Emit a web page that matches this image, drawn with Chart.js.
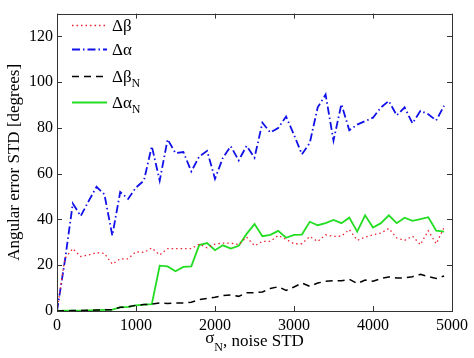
<!DOCTYPE html>
<html>
<head>
<meta charset="utf-8">
<script src="https://cdn.jsdelivr.net/npm/chart.js@4.4.1/dist/chart.umd.min.js"></script>
<style>
  html, body { margin: 0; padding: 0; background: #ffffff; }
  #wrap { width: 474px; height: 358px; position: relative; }
</style>
</head>
<body>
<div id="wrap"><canvas id="c" width="474" height="358"></canvas></div>
<script>
const xValues = [0,100,200,300,400,500,600,700,800,900,1000,1100,1200,1300,1400,1500,1600,1700,1800,1900,2000,2100,2200,2300,2400,2500,2600,2700,2800,2900,3000,3100,3200,3300,3400,3500,3600,3700,3800,3900,4000,4100,4200,4300,4400,4500,4600,4700,4800,4900];
const deltaBeta = [0,23,27.3,23.8,24.5,25.5,25.2,20.5,22.8,22.8,25.9,25.6,27.6,24.5,27.3,27.3,27.3,27.3,29.2,27.6,29.2,29.7,29.7,29,32.3,28.5,30.4,30.4,33,31.3,29.4,29.4,32.6,30.4,33.3,32.6,32.7,35.6,30.9,32.3,33.3,34.1,36.1,31.9,30.9,32.7,29,35.1,29.4,36.5];
const deltaAlpha = [0,22,47,41.5,48,54.3,51,33,52,49,54,57,72,57,75,69,69.5,61,67.5,70,57.8,67,72,65.8,72.2,67,82.3,78,80,85,77,68.5,73.5,89,94.6,74.5,90.4,79,81.5,83,84.5,89,91.8,85.5,89,82,87.5,86,83.3,89.7];
const deltaBetaN = [0,0.1,0.2,0.2,0.3,0.4,0.5,0.6,1.6,1.8,2.5,2.8,3.0,3.5,3.3,3.5,3.5,3.8,5,5.5,6,6.8,7,6.4,8,8,8.3,9.8,10.6,9,10.5,12.2,10.8,12.2,13,13.2,13.2,13.9,12,13.5,13,14.2,14.9,14.4,14.5,15,16,15,14.2,15.3];
const deltaAlphaN = [0,0.1,0.2,0.2,0.3,0.4,0.5,0.6,1.6,1.8,2.5,2.8,3.0,19.8,19.5,17.4,19.3,19.5,28.8,29.7,26.6,28.7,27.3,28.5,33.7,38,32.7,33.3,35,32,33.3,33.4,39,37.5,38.4,39.8,38.4,40.8,34.7,41.8,36.5,38.4,41.8,38.4,40.8,39.4,40.2,41,35.1,34.7];
const yTickValues = [0,20,40,60,80,100,120];
const xTickValues = [0,1000,2000,3000,4000,5000];

const seriesNames = ['\u0394\u03B2', '\u0394\u03B1', '\u0394\u03B2', '\u0394\u03B1'];
const seriesSubs = ['', '', 'N', 'N'];

const FONT = '"Liberation Serif", "DejaVu Serif", serif';

function pts(arr) { return xValues.map((x, i) => ({ x: x, y: arr[i] })); }

const styles = [
  { color: '#ee2233', dash: [1.5, 3], width: 1.3 },
  { color: '#1010e8', dash: [8, 3, 1.5, 3], width: 1.8 },
  { color: '#000000', dash: [7, 5], width: 1.5 },
  { color: '#22dd22', dash: [], width: 1.8 }
];
const seriesData = [deltaBeta, deltaAlpha, deltaBetaN, deltaAlphaN];

const datasets = seriesData.map((d, i) => ({
  label: seriesNames[i] + seriesSubs[i],
  data: pts(d),
  borderColor: styles[i].color,
  borderDash: styles[i].dash,
  borderWidth: styles[i].width,
  pointRadius: 0,
  fill: false,
  tension: 0
}));

const framePlugin = {
  id: 'frame',
  afterDraw(chart) {
    const ctx = chart.ctx;
    const a = chart.chartArea;
    const xs = chart.scales.x, ys = chart.scales.y;
    ctx.save();
    ctx.strokeStyle = '#333333';
    ctx.lineWidth = 1;
    ctx.setLineDash([]);
    ctx.strokeRect(Math.round(a.left) + 0.5, Math.round(a.top) + 0.5, Math.round(a.right - a.left), Math.round(a.bottom - a.top));
    const tl = 5;
    ctx.beginPath();
    xTickValues.forEach(v => {
      const px = Math.round(xs.getPixelForValue(v)) + 0.5;
      ctx.moveTo(px, a.bottom); ctx.lineTo(px, a.bottom - tl);
      ctx.moveTo(px, a.top); ctx.lineTo(px, a.top + tl);
    });
    yTickValues.forEach(v => {
      const py = Math.round(ys.getPixelForValue(v)) + 0.5;
      ctx.moveTo(a.left, py); ctx.lineTo(a.left + tl, py);
      ctx.moveTo(a.right, py); ctx.lineTo(a.right - tl, py);
    });
    ctx.stroke();

    // legend
    const rows = [25, 49, 76, 102];
    ctx.textBaseline = 'alphabetic';
    ctx.textAlign = 'left';
    rows.forEach((ry, i) => {
      ctx.beginPath();
      ctx.strokeStyle = styles[i].color;
      ctx.lineWidth = styles[i].width;
      ctx.setLineDash(styles[i].dash);
      ctx.moveTo(72, ry + 0.5);
      ctx.lineTo(107, ry + 0.5);
      ctx.stroke();
      ctx.setLineDash([]);
      ctx.fillStyle = '#000';
      ctx.font = '17px ' + FONT;
      ctx.fillText(seriesNames[i], 112, ry + 6);
      if (seriesSubs[i]) {
        const w = ctx.measureText(seriesNames[i]).width;
        ctx.font = '12px ' + FONT;
        ctx.fillText(seriesSubs[i], 112 + w, ry + 11);
      }
    });

    // x-axis title with subscript
    ctx.fillStyle = '#000';
    ctx.font = '17px ' + FONT;
    const p1 = '\u03C3', p3 = ', noise STD';
    const w1 = ctx.measureText(p1).width;
    const w3 = ctx.measureText(p3).width;
    ctx.font = '12px ' + FONT;
    const w2 = ctx.measureText('N').width;
    const total = w1 + w2 + w3;
    let sx = (a.left + a.right) / 2 - total / 2;
    const by = 346;
    ctx.font = '17px ' + FONT;
    ctx.fillText(p1, sx, by - 3);
    ctx.font = '12px ' + FONT;
    ctx.fillText('N', sx + w1, by + 5);
    ctx.font = '17px ' + FONT;
    ctx.fillText(p3, sx + w1 + w2, by);
    ctx.restore();
  }
};

new Chart(document.getElementById('c'), {
  type: 'line',
  data: { datasets: datasets },
  plugins: [framePlugin],
  options: {
    responsive: false,
    animation: false,
    devicePixelRatio: 1,
    layout: { padding: { top: 5, right: 22, left: 0, bottom: 0 } },
    plugins: { legend: { display: false }, tooltip: { enabled: false } },
    scales: {
      x: {
        type: 'linear',
        min: 0, max: 5000,
        afterBuildTicks(s) { s.ticks = xTickValues.map(v => ({ value: v })); },
        ticks: { font: { family: FONT, size: 16 }, color: '#000', padding: 5, maxRotation: 0, callback: v => String(v) },
        grid: { display: false, drawTicks: false },
        border: { display: false },
        afterFit(s) { s.height = 47; }
      },
      y: {
        type: 'linear',
        min: 0, max: 130,
        afterBuildTicks(s) { s.ticks = yTickValues.map(v => ({ value: v })); },
        ticks: { font: { family: FONT, size: 16 }, color: '#000', padding: 4, callback: v => String(v) },
        grid: { display: false, drawTicks: false },
        border: { display: false },
        title: { display: true, text: 'Angular error STD [degrees]', font: { family: FONT, size: 17 }, color: '#000', padding: { top: 4, bottom: 0 } },
        afterFit(s) { s.width = 57; }
      }
    }
  }
});
</script>
</body>
</html>
